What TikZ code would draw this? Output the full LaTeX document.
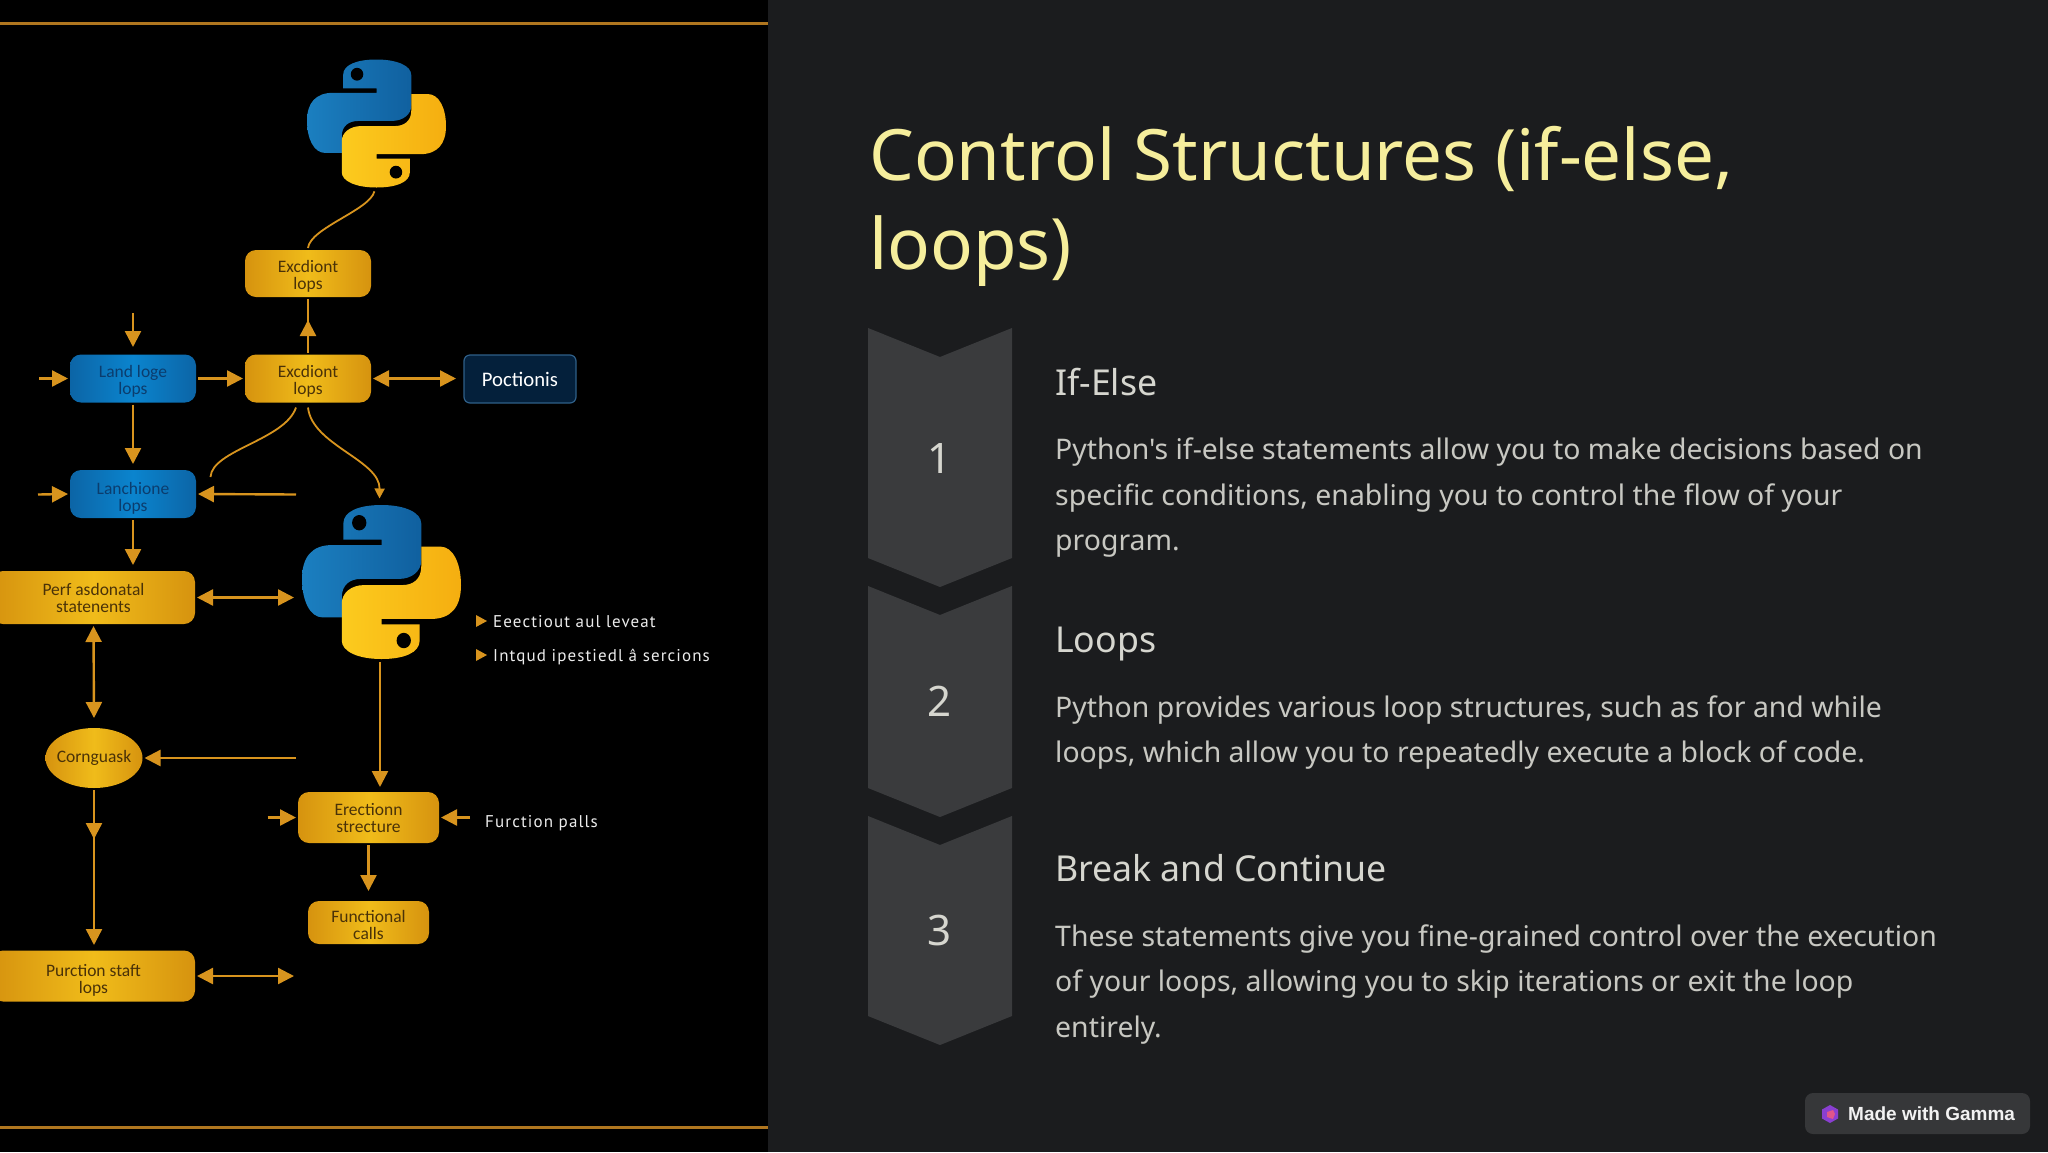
\documentclass[tikz,border=0pt]{standalone}
\usepackage{fontspec}
\usetikzlibrary{arrows.meta,calc,shapes.geometric}
\setmainfont{Noto Sans}
\newfontfamily\slidefont{Noto Sans}
\newfontfamily\boxfont{Carlito}
\newfontfamily\notefont[LetterSpace=6.5]{PT Sans}
\newfontfamily\badgefont{Liberation Sans}
\definecolor{panel}{HTML}{1B1C1E}
\definecolor{flow}{HTML}{D8941E}
\definecolor{rulecol}{HTML}{B0761F}
\definecolor{titlecol}{HTML}{F6EE9C}
\definecolor{headcol}{HTML}{D6D6CF}
\definecolor{bodycol}{HTML}{C8C8C2}
\definecolor{chevcol}{HTML}{3A3B3D}
\definecolor{navy}{HTML}{04203B}
\definecolor{navyedge}{HTML}{2F5F88}
\definecolor{goldside}{HTML}{D6930F}
\definecolor{goldmid}{HTML}{F0BC1A}
\definecolor{goldtext}{HTML}{4A3208}
\definecolor{blueside}{HTML}{0C65A6}
\definecolor{bluemid}{HTML}{0B84CE}
\definecolor{bluetext}{HTML}{0B3D6E}
\definecolor{pyblueL}{HTML}{1B7FC0}
\definecolor{pyblueR}{HTML}{10609F}
\definecolor{pyyellL}{HTML}{FCCB1E}
\definecolor{pyyellR}{HTML}{F5AE10}
\definecolor{gammaA}{HTML}{8A3FD1}
\definecolor{gammaB}{HTML}{E0558A}
\tikzset{
  >={Triangle[length=16pt,width=16pt]},
  flowline/.style={draw=flow,line width=2.4pt},
  thinflow/.style={draw=flow,line width=1.8pt},
  goldbox/.style={
    rectangle,
    rounded corners=11pt,
    left color=goldside,
    right color=goldside,
    middle color=goldmid,
    text=goldtext,
    align=center,
    inner sep=0pt,
    outer sep=2pt,
    text height=32pt,
    text depth=0pt,
    font=\boxfont\fontsize{17.5}{17}\selectfont},
  bluebox/.style={
    goldbox,
    left color=blueside,
    right color=blueside,
    middle color=bluemid,
    text=bluetext},
  sidetext/.style={
    anchor=west,
    inner sep=0pt,
    text=white!92!black,
    font=\notefont\fontsize{17}{17}\selectfont},
  chevnum/.style={
    inner sep=0pt,
    text=headcol,
    font=\slidefont\fontsize{42}{42}\selectfont},
  heading/.style={
    anchor=base west,
    inner sep=0pt,
    text=headcol,
    font=\slidefont\fontsize{35.7}{36}\selectfont},
  bodytext/.style={
    anchor=base west,
    inner sep=0pt,
    align=left,
    text=bodycol,
    font=\slidefont\fontsize{28.4}{45.3}\selectfont},
  pylogo/.pic={
    \path[left color=pyblueL,right color=pyblueR]
      (26,22.5) -- (50,22.5) -- (50,26) -- (19,26)
      .. controls (6,26) and (0,34) .. (0,48)
      .. controls (0,62) and (5,73) .. (13,73) -- (25,73) -- (25,60)
      .. controls (25,52) and (30,48) .. (37,48) -- (61,48)
      .. controls (69,48) and (75,43) .. (75,36) -- (75,12)
      .. controls (75,5) and (65,0) .. (50,0)
      .. controls (36,0) and (26,4) .. (26,12) -- cycle;
    \path[left color=pyyellL,right color=pyyellR]
      (74,77.5) -- (50,77.5) -- (50,74) -- (81,74)
      .. controls (94,74) and (100,66) .. (100,52)
      .. controls (100,38) and (95,27) .. (87,27) -- (75,27) -- (75,40)
      .. controls (75,48) and (70,52) .. (63,52) -- (39,52)
      .. controls (31,52) and (25,57) .. (25,64) -- (25,88)
      .. controls (25,95) and (35,100) .. (50,100)
      .. controls (64,100) and (74,96) .. (74,88) -- cycle;
    \fill[black] (36,11.5) ellipse (4.5 and 5);
    \fill[black] (64,88) ellipse (4.5 and 5);
    \coordinate (-bot) at (48.5,103);
  }
}
\begin{document}
\begin{tikzpicture}[x=1pt,y=-1pt]
  \useasboundingbox (0,0) rectangle (2048,1152);
  \fill[panel] (0,0) rectangle (2048,1152);
  \fill[black] (0,0) rectangle (768,1152);
  \draw[rulecol,line width=3pt] (0,23) -- (768,23);
  \draw[rulecol,line width=3pt] (0,1127) -- (768,1127);

  % logos
  \coordinate (PA) at (307,59.5);
  \coordinate (PB) at (302,505);
  \pic[x=1.39pt,y=-1.28pt] (pya) at (PA) {pylogo};
  \pic[x=1.59pt,y=-1.54pt] (pyb) at (PB) {pylogo};

  % boxes
  \node[goldbox,minimum width=126pt,minimum height=47pt] at (308,273.5) (etop) {Excdiont\\lops};
  \node[goldbox,minimum width=126pt,minimum height=48pt] at (308,378.5) (emid) {Excdiont\\lops};
  \node[bluebox,minimum width=126pt,minimum height=48pt] at (133,378.5) (land) {Land loge\\lops};
  \node[bluebox,text height=34pt,minimum width=126pt,minimum height=48pt] at (133,494) (lanc) {Lanchione\\lops};
  \node[
    rectangle,
    rounded corners=6pt,
    minimum width=112pt,
    minimum height=48pt,
    fill=navy,
    draw=navyedge,
    line width=1.2pt,
    text=white,
    outer sep=2pt,
    text height=15pt,
    text depth=0pt,
    font=\boxfont\fontsize{20.7}{21}\selectfont] at (520,379) (poct) {Poctionis};
  \node[goldbox,text height=29.5pt,minimum width=203pt,minimum height=53pt] at (93.5,597.5) (perf) {Perf asdonatal\\statenents};
  \node[
    goldbox,
    ellipse,
    inner xsep=-3.5pt,
    text height=8pt,
    minimum width=97pt,
    minimum height=60pt] at (94,758) (corn) {Cornguask};
  \node[goldbox,text height=34pt,minimum width=203pt,minimum height=51pt] at (93.5,976) (purc) {Purction staft\\lops};
  \node[goldbox,text height=29.5pt,minimum width=141pt,minimum height=51pt] at (368.5,817.5) (erec) {Erectionn\\strecture};
  \node[goldbox,text height=34pt,minimum width=121pt,minimum height=43pt] at (368.5,922.5) (func) {Functional\\calls};

  % free ends
  \coordinate (landtop) at (133,313);
  \coordinate (landtip) at (133,347);
  \coordinate (landleft) at (39,378.5);
  \coordinate (lanctip) at (133,464);
  \coordinate (lancleft) at (38,494.5);
  \coordinate (lancright) at (296,494.5);
  \coordinate (perftip) at (133,565);
  \coordinate (midup) at (308,320);
  \coordinate (pocttip) at (456,378.5);
  \coordinate (perfright) at (294,597.5);
  \coordinate (corntip) at (94,718);
  \coordinate (cornright) at (296,758);
  \coordinate (cornmid) at (94,839);
  \coordinate (purctip) at (94,945);
  \coordinate (purcright) at (294,976);
  \coordinate (erecleft) at (267.5,817.5);
  \coordinate (erecright) at (470,817.5);
  \coordinate (curvea) at (210.5,477);
  \coordinate (curveb) at (379.5,498.5);
  \coordinate (erecup) at (380,662);
  \coordinate (erectip) at (380,787);
  \coordinate (functip) at (368.5,891);

  % connectors
  \draw[thinflow] (pya-bot) .. controls (370,210) and (310,228) .. (etop.north);
  \draw[flowline] (emid.north) -- (etop.south);
  \draw[flowline,->] (emid.north) -- (midup);
  \draw[flowline,->] (landtop) -- (landtip);
  \draw[flowline,->] (landleft) -- (land.west);
  \draw[flowline,->] (land.east) -- (emid.west);
  \draw[flowline,<->] (emid.east) -- (pocttip);
  \draw[flowline,->] (land.south) -- (lanctip);
  \draw[flowline,->] (lancleft) -- (lanc.west);
  \draw[flowline,->] (lancright) -- (lanc.east);
  \draw[thinflow] ($(emid.south)+(-12,3)$) .. controls (285,440) and (212,450) .. (curvea);
  \draw[thinflow,-{Triangle[length=10pt,width=10pt]}] ($(emid.south)+(0,3)$) .. controls (312,445) and (380,460) .. (curveb);
  \draw[flowline,->] (lanc.south) -- (perftip);
  \draw[flowline,<->] (perf.east) -- (perfright);
  \draw[flowline,<->] (perf.south) -- (corntip);
  \draw[flowline,->] (cornright) -- (corn.east);
  \draw[flowline,->] (corn.south) -- (cornmid);
  \draw[flowline,->] (corn.south) -- (purctip);
  \draw[flowline,<->] (purc.east) -- (purcright);
  \draw[flowline,->] (erecup) -- (erectip);
  \draw[flowline,->] (erecleft) -- (erec.west);
  \draw[flowline,->] (erecright) -- (erec.east);
  \draw[flowline,->] (erec.south) -- (functip);

  % side notes
  \fill[flow] (476,615) -- (487,621) -- (476,627) -- cycle;
  \fill[flow] (476,649) -- (487,655) -- (476,661) -- cycle;
  \node[sidetext] at (493,622) (notea) {Eeectiout aul leveat};
  \node[sidetext] at (493,657) (noteb) {Intqud ipestiedl â sercions};
  \node[sidetext] at (485,823) (notec) {Furction palls};

  % right panel
  \node[
    anchor=base west,
    inner sep=0pt,
    align=left,
    text=titlecol,
    font=\slidefont\fontsize{70.9}{89}\selectfont] at (869,269.5) (title) {Control Structures (if-else,\\loops)};

  \fill[chevcol] (868,328) -- (940,357) -- (1012,328) -- (1012,558) -- (940,587) -- (868,558) -- cycle;
  \fill[chevcol] (868,586) -- (940,615) -- (1012,586) -- (1012,788) -- (940,817) -- (868,788) -- cycle;
  \fill[chevcol] (868,816) -- (940,845) -- (1012,816) -- (1012,1016) -- (940,1045) -- (868,1016) -- cycle;
  \node[chevnum] at (940,458) (numa) {1};
  \node[chevnum] at (940,701) (numb) {2};
  \node[chevnum] at (940,930) (numc) {3};

  \node[heading] at (1055,395.5) (heada) {If-Else};
  \node[bodytext] at (1055,550.5) (bodya) {Python's if-else statements allow you to make decisions based on\\specific conditions, enabling you to control the flow of your\\program.};
  \node[heading] at (1055,652.5) (headb) {Loops};
  \node[bodytext] at (1055,762.5) (bodyb) {Python provides various loop structures, such as for and while\\loops, which allow you to repeatedly execute a block of code.};
  \node[heading] at (1055,881.5) (headc) {Break and Continue};
  \node[bodytext] at (1055,1037) (bodyc) {These statements give you fine-grained control over the execution\\of your loops, allowing you to skip iterations or exit the loop\\entirely.};

  % badge
  \node[
    rectangle,
    rounded corners=8pt,
    minimum width=225pt,
    minimum height=41pt,
    fill=white!12!panel,
    inner sep=0pt] at (1917.5,1113.5) (badge) {};
  \fill[gammaA] (1830,1105) -- (1838,1109.5) -- (1838,1118.5) -- (1830,1123) -- (1822,1118.5) -- (1822,1109.5) -- cycle;
  \fill[gammaB] (1833,1110) -- (1827,1112) -- (1827,1117) -- (1833,1119) -- (1835,1114) -- cycle;
  \node[
    anchor=base west,
    inner sep=0pt,
    text=white!95!black,
    font=\badgefont\bfseries\fontsize{19}{19}\selectfont] at (1848,1120) (badgetext) {Made with Gamma};
\end{tikzpicture}
\end{document}
